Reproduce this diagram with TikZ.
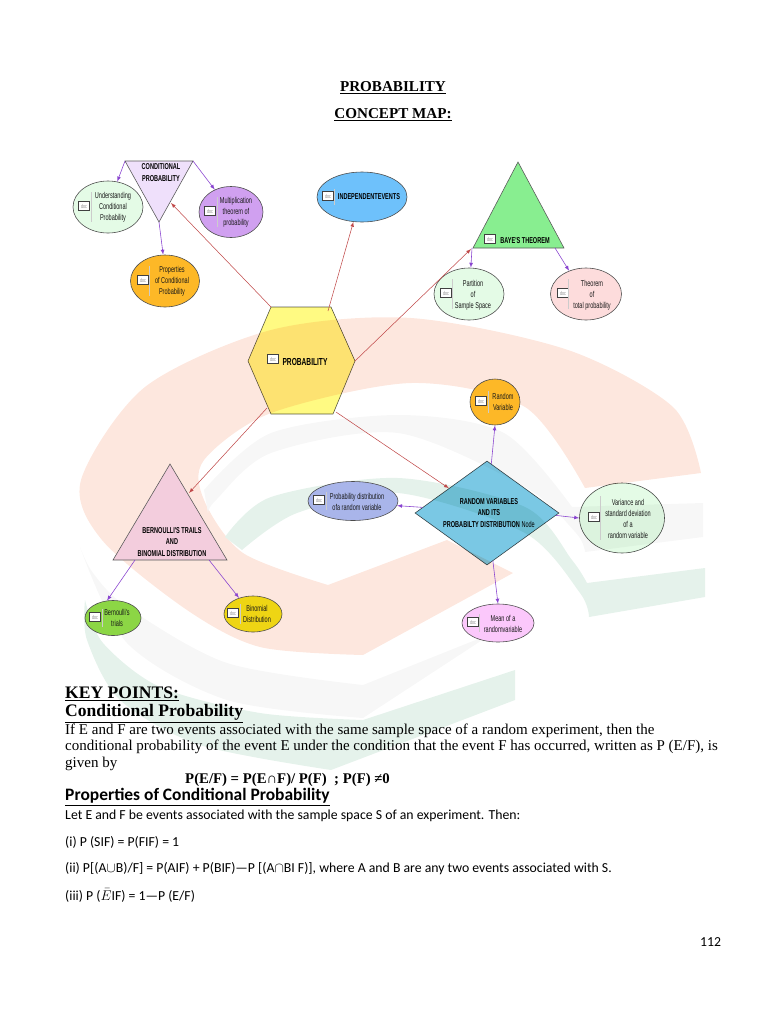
\documentclass[tikz,border=0pt]{standalone}
\usepackage{amsmath,amssymb}
\usepackage{fontspec}
\usetikzlibrary{shapes.geometric}
\usetikzlibrary{calc}
\setmainfont{Liberation Serif}
\newfontfamily\mapfont[FakeStretch=0.65]{Liberation Sans}
\newfontfamily\calfont{Carlito}

\definecolor{wmpeach}{HTML}{FDE7DE}
\definecolor{wmgray}{HTML}{F7F7F7}
\definecolor{wmgreen}{HTML}{E5F2EB}
\definecolor{linkred}{HTML}{C04848}
\definecolor{linkpurple}{HTML}{8A45D0}

\tikzset{
  conceptoval/.style={ellipse,draw=black!70,line width=0.5pt,inner sep=0pt},
  conceptpoly/.style={draw=black!65,line width=0.5pt,line join=miter},
  docicon/.style={draw=black!75,fill=white,text=black!45,font=\mapfont\fontsize{4.8}{5}\selectfont,minimum width=3.2mm,minimum height=2.6mm,inner sep=0pt},
  divider/.style={black!20,line width=0.3pt},
  maptext/.style={font=\mapfont\fontsize{7.3}{9.4}\selectfont,align=center,text=black!90,inner sep=0pt},
  mapbold/.style={font=\mapfont\bfseries\fontsize{7.3}{10.2}\selectfont,align=center,inner sep=0pt},
  redlink/.style={->,>=latex,linkred,line width=0.45pt},
  purplelink/.style={->,>=latex,linkpurple,line width=0.5pt},
  headtext/.style={font=\bfseries\fontsize{12.9}{15}\selectfont,inner sep=0pt},
  serifbody/.style={anchor=base west,font=\fontsize{12.8}{14}\selectfont,inner sep=0pt},
  calbody/.style={anchor=base west,font=\calfont\fontsize{11.75}{13}\selectfont,inner sep=0pt},
}

\begin{document}
\begin{tikzpicture}[x=0.3mm,y=-0.3mm]
  \useasboundingbox (0,0) rectangle (768,1024);

  % watermark
  \fill[wmpeach] plot[smooth] coordinates {(701,473) (673,407) (568,350) (411,318) (271,330) (145,387) (81,480) (102,540) (187,610) (260,647) (363,655)}
    -- (513,573) -- (447,540) -- (328,585)
    -- plot[smooth] coordinates {(328,585) (243,553) (204,500) (204,460) (271,413) (411,383) (525,407) (585,488)} -- cycle;
  \fill[wmgray] plot[smooth] coordinates {(204,490) (271,433) (398,415) (504,433) (572,507)}
    -- (703,503) -- (703,537) -- (585,552)
    -- plot[smooth] coordinates {(585,552) (576,533) (525,487) (398,433) (271,453) (216,500) (208,513)} -- cycle;
  \fill[wmgray] plot[smooth] coordinates {(80,547) (93,573) (127,607) (227,663) (363,685)}
    -- (493,633) -- (363,718)
    -- plot[smooth] coordinates {(363,718) (227,700) (127,643) (80,547)} -- cycle;
  \fill[wmgreen] plot[smooth] coordinates {(225,537) (271,497) (398,478) (525,507) (572,560) (587,583)}
    -- (705,568) -- (705,597) -- (589,617)
    -- plot[smooth] coordinates {(589,617) (580,593) (525,533) (398,493) (297,513) (242,550)} -- cycle;
  \fill[wmgreen] plot[smooth] coordinates {(85,600) (103,643) (160,687) (260,713) (363,720)}
    -- (515,670) -- (515,700) -- (331,770)
    -- plot[smooth] coordinates {(331,770) (200,745) (120,700) (87,640) (85,600)} -- cycle;

  \coordinate (condA) at (125,161);
  \coordinate (condB) at (193,161);
  \coordinate (condC) at (159,222);
  \coordinate (condIn) at (171,203);
  \coordinate (bayesA) at (518,162);
  \coordinate (bayesB) at (473,248);
  \coordinate (bayesC) at (564,248);
  \coordinate (bayesOutA) at (472,248);
  \coordinate (bayesOutB) at (555,248);
  \coordinate (bayesIn) at (471,249);
  \coordinate (bernA) at (170,464);
  \coordinate (bernB) at (113,560);
  \coordinate (bernC) at (227,560);
  \coordinate (bernIn) at (189,493);
  \coordinate (bernOutA) at (135,560);
  \coordinate (bernOutB) at (209,560);
  \coordinate (probNW) at (271,307);
  \coordinate (probNE) at (331,307);
  \coordinate (probE) at (355,361);
  \coordinate (probSE) at (333,414);
  \coordinate (probSW) at (271,414);
  \coordinate (probW) at (248,361);
  \coordinate (probOutA) at (328,311);
  \coordinate (probOutB) at (267,408);
  \coordinate (probOutC) at (336,412);

  \draw[conceptpoly,fill={rgb,255:red,239;green,224;blue,251}] (condA) -- (condB) -- (condC) -- cycle;
  \draw[conceptpoly,fill={rgb,255:red,136;green,238;blue,144}] (bayesA) -- (bayesB) -- (bayesC) -- cycle;
  \draw[conceptpoly,fill={rgb,255:red,243;green,205;blue,221}] (bernA) -- (bernB) -- (bernC) -- cycle;

  \node[conceptoval,minimum width=21mm,minimum height=15.6mm,fill={rgb,255:red,228;green,251;blue,230}] (understand) at (108,207) {};
  \node[conceptoval,minimum width=19.2mm,minimum height=15.3mm,fill={rgb,255:red,208;green,160;blue,240}] (multiply) at (231,212) {};
  \node[conceptoval,minimum width=20.7mm,minimum height=15.6mm,fill={rgb,255:red,253;green,184;blue,39}] (properties) at (165,281) {};
  \node[conceptoval,minimum width=27mm,minimum height=15mm,fill={rgb,255:red,110;green,193;blue,251}] (independent) at (362,197) {};
  \node[conceptoval,minimum width=21mm,minimum height=15.6mm,fill={rgb,255:red,228;green,251;blue,230}] (partition) at (469,294) {};
  \node[conceptoval,minimum width=21.3mm,minimum height=15.6mm,fill={rgb,255:red,253;green,220;blue,220}] (totalprob) at (586,294) {};
  \node[conceptoval,minimum width=15mm,minimum height=13.8mm,fill={rgb,255:red,253;green,184;blue,39}] (randomvar) at (495,402) {};
  \node[conceptoval,minimum width=21.6mm,minimum height=11.4mm,fill={rgb,255:red,251;green,200;blue,251}] (meanvar) at (498,623) {};
  \node[conceptoval,minimum width=27mm,minimum height=11.7mm,fill={rgb,255:red,169;green,181;blue,234}] (probdist) at (353,501) {};
  \node[conceptoval,minimum width=16.8mm,minimum height=10.5mm,fill={rgb,255:red,140;green,214;blue,69}] (trials) at (113,618) {};
  \node[conceptoval,minimum width=17.4mm,minimum height=10.8mm,fill={rgb,255:red,238;green,213;blue,20}] (binomial) at (253,614) {};

  \begin{scope}[blend mode=multiply]
    \draw[conceptpoly,fill={rgb,255:red,255;green,250;blue,130}] (probNW) -- (probNE) -- (probE) -- (probSE) -- (probSW) -- (probW) -- cycle;
    \node[diamond,draw=black!70,line width=0.5pt,inner sep=0pt,aspect=1.385,minimum width=43.2mm,minimum height=31.2mm,fill={rgb,255:red,122;green,200;blue,228}] (randvars) at (487,513) {};
    \node[conceptoval,minimum width=25.5mm,minimum height=21mm,fill={rgb,255:red,228;green,251;blue,230}] (variance) at (622,518) {};
  \end{scope}

  \foreach \nm/\ix/\dx/\cy/\dy in {understand/84/91/207/15,multiply/210/217/212/15,properties/143/149/281/15,independent/328/334/197/8,partition/446/452/294/15,totalprob/563/568/294/15,randomvar/481/488/402/11,variance/594/600/518/22,meanvar/473/479/623/9,probdist/319/326/501/9,trials/95/102/618/9,binomial/233/240/614/10}{
    \node[docicon] (\nm doc) at (\ix,\cy-1) {doc};
    \draw[divider] (\dx,\cy-\dy) -- (\dx,\cy+\dy);
  }
  \node[docicon] (bayesdoc) at (490,239) {doc};
  \node[docicon] (probdoc) at (273,359) {doc};

  \node[mapbold] (condlabel) at (161,173) {CONDITIONAL\\PROBABILITY};
  \node[mapbold] (bayeslabel) at (525,241) {BAYE'S THEOREM};
  \node[mapbold] (bernlabel) at (172,542) {BERNOULLI'S TRAILS\\AND\\BINOMIAL DISTRIBUTION};
  \node[mapbold,font=\mapfont\bfseries\fontsize{8.7}{10}\selectfont] (problabel) at (305,362) {PROBABILITY};
  \node[mapbold] (randlabel) at (489,513) {RANDOM VARIABLES\\AND ITS\\PROBABILTY DISTRIBUTION {\mdseries Node}};
  \node[mapbold] (indeplabel) at (369,197) {INDEPENDENTEVENTS};

  \node[maptext] (understandtext) at (113,207) {Understanding\\Conditional\\Probability};
  \node[maptext] (multiplytext) at (236,212) {Multiplication\\theorem of\\probability};
  \node[maptext] (propertiestext) at (172,281) {Properties\\of Conditional\\Probability};
  \node[maptext] (partitiontext) at (473,295) {Partition\\of\\Sample Space};
  \node[maptext] (totalprobtext) at (592,295) {Theorem\\of\\total probability};
  \node[maptext] (randomvartext) at (503,402) {Random\\Variable};
  \node[maptext] (variancetext) at (628,519) {Variance and\\standard deviation\\of a\\random variable};
  \node[maptext] (meanvartext) at (503,624) {Mean of a\\randomvariable};
  \node[maptext] (probdisttext) at (357,502) {Probability distribution\\ofa random variable};
  \node[maptext] (trialstext) at (117,618) {Bernoulli's\\trials};
  \node[maptext] (binomialtext) at (257,614) {Binomial\\Distribution};

  \draw[redlink] (probNW) -- (condIn);
  \draw[redlink] (probOutA) -- (independent.251);
  \draw[redlink] (probE) -- (bayesIn);
  \draw[redlink] (probOutB) -- (bernIn);
  \draw[redlink] (probOutC) -- (randvars.147);

  \draw[purplelink] (condA) -- (understand.70);
  \draw[purplelink] (condB) -- (multiply.126);
  \draw[purplelink] (condC) -- (properties.94);
  \draw[purplelink] (bayesOutA) -- (partition.86);
  \draw[purplelink] (bayesOutB) -- (totalprob.126);
  \draw[purplelink] (randvars.85) -- (randomvar.south);
  \draw[purplelink] (randvars.175) -- (probdist.-6);
  \draw[purplelink] (randvars.-2) -- (variance.180);
  \draw[purplelink] (randvars.-83) -- (meanvar.north);
  \draw[purplelink] (bernOutA) -- (trials.109);
  \draw[purplelink] (bernOutB) -- (binomial.131);

  % page text
  \node[headtext] (title) at (393,88) {\underline{PROBABILITY}};
  \node[headtext] (subtitle) at (393,115) {\underline{CONCEPT MAP:}};

  \node[anchor=base west,inner sep=0pt,font=\bfseries\fontsize{15}{17}\selectfont] (keypoints) at (65,698) {\underline{KEY POINTS:}};
  \node[anchor=base west,inner sep=0pt,font=\bfseries\fontsize{15}{17}\selectfont] (condhead) at (65,716.5) {\underline{Conditional Probability}};
  \node[serifbody] (bodya) at (65,734) {If E and F are two events associated with the same sample space of a random experiment, then the};
  \node[serifbody] (bodyb) at (65,750) {conditional probability of the event E under the condition that the event F has occurred, written as P (E/F), is};
  \node[serifbody] (bodyc) at (65,767) {given by};
  \node[serifbody,font=\bfseries\fontsize{12.6}{14}\selectfont] (formula) at (185,783) {P(E/F) = P(E∩F)/ P(F) \ ; P(F) ≠0};
  \node[anchor=base west,inner sep=0pt,font=\calfont\bfseries\fontsize{14.9}{16}\selectfont] (prophead) at (65,800.5) {\underline{Properties of Conditional Probability}};
  \node[calbody] (propa) at (65,819) {Let E and F be events associated with the sample space S of an experiment. Then:};
  \node[calbody] (propb) at (65,846) {(i) P (SIF) = P(FIF) = 1};
  \node[calbody] (propc) at (65,872) {(ii) P[(A\(\cup\)B)/F] = P(AIF) + P(BIF)—P [(A\(\cap\)BI F)], where A and B are any two events associated with S.};
  \node[calbody] (propd) at (65,900) {(iii) P (\(\bar{E}\)IF) = 1—P (E/F)};
  \node[calbody] (pagenum) at (700,946) {112};
\end{tikzpicture}
\end{document}
